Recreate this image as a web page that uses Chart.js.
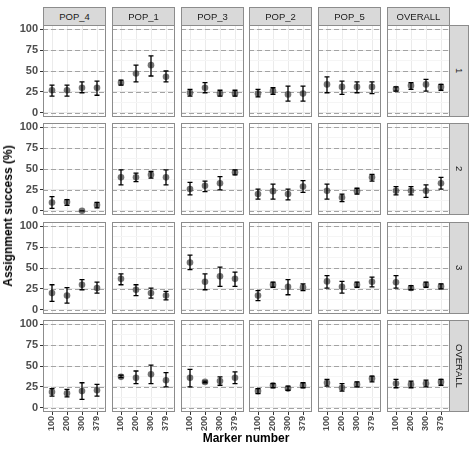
<!DOCTYPE html>
<html>
<head>
<meta charset="utf-8">
<script src="https://cdn.jsdelivr.net/npm/chart.js@4.4.1/dist/chart.umd.min.js"></script>
<style>
  body { margin: 0; background: #fff; }
  #wrap { position: relative; width: 474px; height: 450px; font-family: 'Liberation Sans', Arial, sans-serif; }
  canvas { position: absolute; }
  .strip { position: absolute; box-sizing: border-box; background: #d9d9d9; border: 1px solid #8c8c8c;
           color: #1a1a1a; font-size: 9.5px; display: flex; align-items: center; justify-content: center; }
  .vert { writing-mode: vertical-rl; }
  .title { position: absolute; font-weight: bold; font-size: 12px; color: #000; white-space: nowrap; }
</style>
</head>
<body>
<div id="wrap"></div>
<script>
// facet labels and axis categories
const pops = ['POP_4', 'POP_1', 'POP_3', 'POP_2', 'POP_5', 'OVERALL'];
const rowLabels = ['1', '2', '3', 'OVERALL'];
const markers = ['100', '200', '300', '379'];
const yTicks = [0, 25, 50, 75, 100];
const minorTicks = [12.5, 37.5, 62.5, 87.5];

// row 1 (one inner array per population, order as pops)
const mean1 = [[27, 27, 30, 30], [36, 47, 57, 43], [24, 30, 23, 23], [23, 26, 22, 23], [34, 31, 31, 31], [28.5, 32.5, 34, 31]];
const lo1   = [[20, 20, 24, 21], [33, 37, 44, 37], [20, 24, 20, 20], [19, 22, 14, 14], [24, 22, 24, 23], [26, 28, 26, 27]];
const hi1   = [[33, 33, 37, 38], [39, 57, 68, 50], [28, 36, 27, 27], [28, 30, 32, 32], [43, 38, 37, 37], [31, 36, 40, 34]];
// row 2
const mean2 = [[10, 10.5, 0, 7], [40, 40, 43, 40], [26, 30, 33, 46], [20, 23.5, 20, 29], [24, 16, 23.5, 40], [24, 24, 24, 33]];
const lo2   = [[3, 6.5, 0, 3.5], [31, 35, 39, 31], [19, 23, 25, 43], [14, 14, 13, 22], [14, 11, 20, 35.5], [19, 19, 16, 26]];
const hi2   = [[17, 13.5, 0, 10], [49, 45, 47, 49], [34, 35.5, 41, 49], [26, 32, 26, 36], [32, 20, 27, 43.5], [29, 29, 31, 40]];
// row 3
const mean3 = [[20, 17, 30, 26], [37, 24, 20, 17], [56.5, 33.5, 40, 37], [17, 30, 27.5, 27], [34, 27.5, 30, 33.5], [33, 26, 30, 28]];
const lo3   = [[10, 8, 24, 20], [30, 17, 14, 12], [48, 24, 28, 28], [11, 27, 18, 23], [26, 20, 27, 27.5], [26, 24, 27, 25]];
const hi3   = [[30, 26.5, 36, 33], [43, 30, 26, 22], [65.5, 43, 51, 45], [23, 33, 36, 31], [41, 34, 33, 39], [41, 29, 33, 31]];
// row OVERALL
const mean4 = [[19, 17.5, 20, 21], [37, 36, 40, 33], [36, 31, 32, 36], [20, 27, 23, 27], [30, 24, 28, 35], [29, 28, 29, 31]];
const lo4   = [[14, 13, 10, 14], [36, 29, 29, 25], [25, 30, 27, 29], [17, 24, 21, 24], [26, 20, 25, 31], [24, 24, 25, 27]];
const hi4   = [[23, 22, 30, 28], [39, 44, 51, 42], [46, 32, 37, 43], [23, 29, 26, 30], [34, 29, 31, 38], [34, 32, 33, 34]];

const means = [mean1, mean2, mean3, mean4];
const lows = [lo1, lo2, lo3, lo4];
const highs = [hi1, hi2, hi3, hi4];

// layout
const colLeft = [43, 112, 181, 249, 318, 387];
const rowTop = [25, 123, 222, 320];
const panelW = 63, panelH = 92, yAxisW = 43, xAxisH = 28;
const labelRoom = 6; // extra canvas space so the "100" / "0" labels are not cut

const wrap = document.getElementById('wrap');

// dashed reference lines, error bars and panel border
const panelDeco = {
    id: 'panelDeco',
    beforeDatasetsDraw(chart) {
        const { ctx, chartArea: a, scales: { y } } = chart;
        ctx.save();
        ctx.strokeStyle = '#a3a3a3';
        ctx.lineWidth = 1;
        ctx.setLineDash([5, 3]);
        yTicks.forEach(v => {
            const py = Math.round(y.getPixelForValue(v)) + 0.5;
            ctx.beginPath();
            ctx.moveTo(a.left, py);
            ctx.lineTo(a.right, py);
            ctx.stroke();
        });
        ctx.restore();
    },
    afterDatasetsDraw(chart, args, opts) {
        const { ctx, scales: { x, y } } = chart;
        ctx.save();
        ctx.strokeStyle = '#000';
        ctx.lineWidth = 1.3;
        opts.lo.forEach((lo, i) => {
            const px = x.getPixelForValue(i + 1);
            const y1 = y.getPixelForValue(lo);
            const y2 = y.getPixelForValue(opts.hi[i]);
            ctx.beginPath();
            ctx.moveTo(px, y1); ctx.lineTo(px, y2);
            ctx.moveTo(px - 2.5, y1); ctx.lineTo(px + 2.5, y1);
            ctx.moveTo(px - 2.5, y2); ctx.lineTo(px + 2.5, y2);
            ctx.stroke();
        });
        ctx.restore();
    },
    afterDraw(chart) {
        const { ctx, chartArea: a } = chart;
        ctx.save();
        ctx.strokeStyle = '#8c8c8c';
        ctx.lineWidth = 1;
        ctx.strokeRect(Math.round(a.left) + 0.5, Math.round(a.top) + 0.5,
                       Math.round(a.right - a.left) - 1, Math.round(a.bottom - a.top) - 1);
        ctx.restore();
    }
};

const gridColor = (c) => (c.tick && c.tick.value % 25 === 0) ? '#ebebeb' : '#f5f5f5';
const noPad = (s) => { s.paddingTop = 0; s.paddingBottom = 0; s.paddingLeft = 0; s.paddingRight = 0; };

rowLabels.forEach((rl, r) => {
    pops.forEach((pop, c) => {
        const isLeft = c === 0;
        const isBottom = r === rowLabels.length - 1;
        const padTop = isLeft ? labelRoom : 0;
        const padBottom = (isLeft && !isBottom) ? labelRoom : 0;
        const cv = document.createElement('canvas');
        const w = panelW + (isLeft ? yAxisW : 0);
        const h = panelH + (isBottom ? xAxisH : 0) + padTop + padBottom;
        cv.width = w; cv.height = h;
        cv.style.left = (isLeft ? 0 : colLeft[c]) + 'px';
        cv.style.top = (rowTop[r] - padTop) + 'px';
        wrap.appendChild(cv);

        new Chart(cv, {
            type: 'scatter',
            data: {
                datasets: [{
                    data: means[r][c].map((v, i) => ({ x: i + 1, y: v })),
                    backgroundColor: 'rgba(70,70,70,0.75)',
                    borderWidth: 0,
                    pointRadius: 3.3
                }]
            },
            options: {
                responsive: false,
                animation: false,
                events: [],
                layout: { padding: { top: padTop, bottom: padBottom, left: 0, right: 0 }, autoPadding: false },
                plugins: {
                    legend: { display: false },
                    tooltip: { enabled: false },
                    panelDeco: { lo: lows[r][c], hi: highs[r][c] }
                },
                scales: {
                    x: {
                        type: 'linear', min: 0.4, max: 4.6,
                        afterBuildTicks: s => { s.ticks = markers.map((m, i) => ({ value: i + 1 })); },
                        afterFit: s => { s.height = isBottom ? xAxisH : 0; noPad(s); },
                        border: { display: false },
                        grid: { color: '#ebebeb', drawTicks: isBottom, tickLength: 3, tickColor: '#333' },
                        ticks: {
                            display: isBottom,
                            minRotation: 90, maxRotation: 90,
                            padding: 1,
                            color: '#4d4d4d',
                            font: { family: "'Liberation Sans', Arial", size: 9, weight: 'bold' },
                            callback: v => markers[v - 1]
                        }
                    },
                    y: {
                        min: -5, max: 105,
                        afterBuildTicks: s => { s.ticks = yTicks.concat(minorTicks).sort((a, b) => a - b).map(v => ({ value: v })); },
                        afterFit: s => { s.width = isLeft ? yAxisW : 0; noPad(s); },
                        border: { display: false },
                        grid: {
                            color: gridColor,
                            drawTicks: isLeft, tickLength: 3,
                            tickColor: (ctx) => (ctx.tick && ctx.tick.value % 25 === 0) ? '#333' : 'rgba(0,0,0,0)'
                        },
                        ticks: {
                            display: isLeft,
                            padding: 2,
                            color: '#4d4d4d',
                            font: { family: "'Liberation Sans', Arial", size: 11, weight: 'bold' },
                            callback: v => (v % 25 === 0 ? v : '')
                        }
                    }
                }
            },
            plugins: [panelDeco]
        });
    });
});

// facet strips
pops.forEach((pop, c) => {
    const d = document.createElement('div');
    d.className = 'strip';
    d.style.left = colLeft[c] + 'px'; d.style.top = '7px';
    d.style.width = panelW + 'px'; d.style.height = '19px';
    d.textContent = pop;
    wrap.appendChild(d);
});
rowLabels.forEach((rl, r) => {
    const d = document.createElement('div');
    d.className = 'strip';
    d.style.left = (colLeft[colLeft.length - 1] + panelW - 1) + 'px'; d.style.top = rowTop[r] + 'px';
    d.style.width = '20px'; d.style.height = panelH + 'px';
    const s = document.createElement('span');
    s.className = 'vert';
    s.textContent = rl;
    d.appendChild(s);
    wrap.appendChild(d);
});

// axis titles
const xt = document.createElement('div');
xt.className = 'title';
xt.textContent = 'Marker number';
xt.style.left = '246px'; xt.style.top = '431px';
xt.style.transform = 'translateX(-50%)';
wrap.appendChild(xt);

const yt = document.createElement('div');
yt.className = 'title';
yt.textContent = 'Assignment success (%)';
yt.style.left = '8px'; yt.style.top = '216px';
yt.style.transform = 'translate(-50%, -50%) rotate(-90deg)';
wrap.appendChild(yt);
</script>
</body>
</html>
